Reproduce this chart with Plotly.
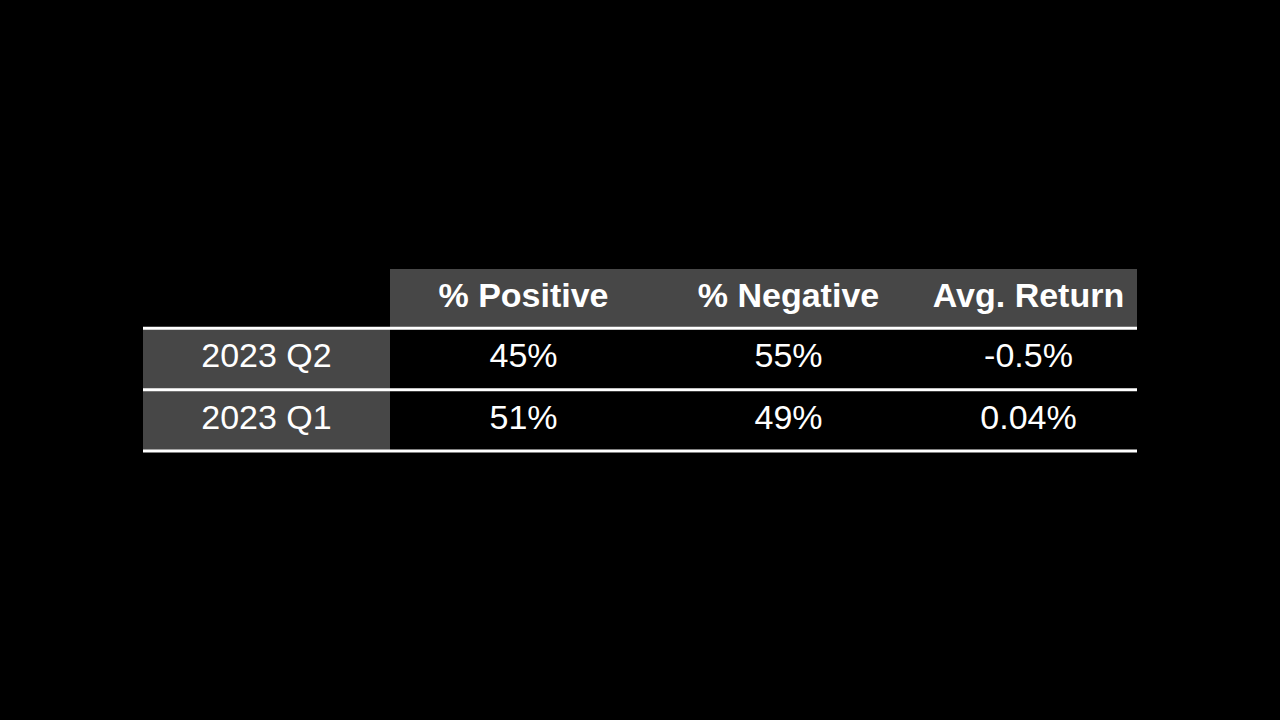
import plotly.graph_objects as go

columns = ["", "% Positive", "% Negative", "Avg. Return"]
row_labels = ["2023 Q2", "2023 Q1"]
pct_positive = ["45%", "51%"]
pct_negative = ["55%", "49%"]
avg_return = ["-0.5%", "0.04%"]

col_widths = [247, 267, 263, 217]
header_h = 59
row_h = 61
gray = "#474747"
pad = 4

edges = [0]
for w in col_widths:
    edges.append(edges[-1] + w)
centers = [(edges[i] + edges[i + 1]) / 2 for i in range(len(col_widths))]
total_h = header_h + row_h * len(row_labels)
row_tops = [total_h - header_h - i * row_h for i in range(len(row_labels))]
row_mid = [t - row_h / 2 for t in row_tops]
header_mid = total_h - header_h / 2

fig = go.Figure()
# gray header cells (skip the empty corner)
fig.add_bar(x=centers[1:], width=col_widths[1:], base=[total_h - header_h] * 3,
            y=[header_h] * 3, marker=dict(color=gray, line_width=0), hoverinfo="skip")
# gray row label cells
fig.add_bar(x=[centers[0]] * len(row_labels), width=[col_widths[0]] * len(row_labels),
            base=[t - row_h for t in row_tops], y=[row_h] * len(row_labels),
            marker=dict(color=gray, line_width=0), hoverinfo="skip")

font = dict(family="Liberation Sans, Arial, sans-serif", size=34, color="white")
fig.add_scatter(x=centers[1:], y=[header_mid] * 3, mode="text",
                text=["<b>%s</b>" % c for c in columns[1:]], textfont=font, hoverinfo="skip")
body = [row_labels, pct_positive, pct_negative, avg_return]
for ci, col in enumerate(body):
    fig.add_scatter(x=[centers[ci]] * len(col), y=row_mid, mode="text",
                    text=col, textfont=font, hoverinfo="skip")

for t in row_tops + [row_tops[-1] - row_h]:
    fig.add_shape(type="line", x0=0, x1=edges[-1], y0=t, y1=t, xref="x", yref="y",
                  line=dict(color="white", width=3))

fig.update_layout(
    width=1280, height=720, paper_bgcolor="black", plot_bgcolor="black",
    margin=dict(l=143, r=143, t=269, b=269 - pad), showlegend=False, barmode="overlay",
    xaxis=dict(range=[0, edges[-1]], visible=False, fixedrange=True),
    yaxis=dict(range=[-pad, total_h], visible=False, fixedrange=True),
)
fig.write_html("out.html", config={"displayModeBar": False},
               post_script="document.body.style.margin='0';document.body.style.background='black';")
